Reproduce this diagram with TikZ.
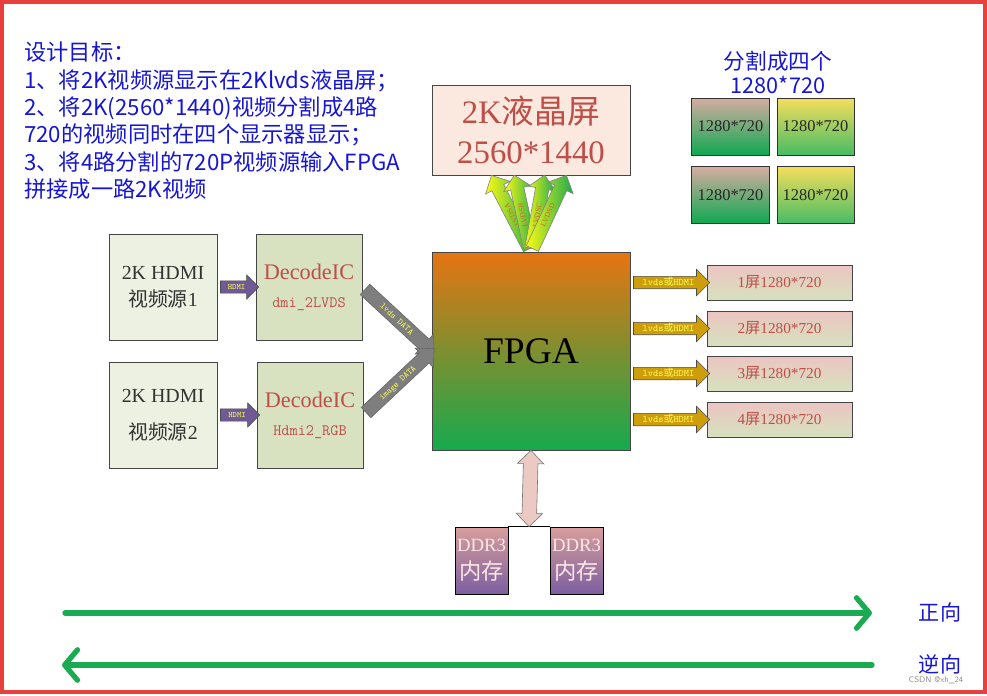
\documentclass[tikz,border=0pt]{standalone}
\usepackage{fontspec}
\setmainfont{Liberation Serif}
\newfontfamily\cjk{Noto Sans CJK SC}
\usetikzlibrary{positioning,calc,shapes.arrows,arrows.meta}

\definecolor{framered}{RGB}{232,64,60}
\definecolor{goalblue}{RGB}{22,22,210}
\definecolor{boxline}{RGB}{70,70,70}
\definecolor{srcfill}{RGB}{236,241,226}
\definecolor{decfill}{RGB}{216,226,193}
\definecolor{lcdfill}{RGB}{251,233,223}
\definecolor{redtext}{RGB}{190,78,72}
\definecolor{fpgatop}{RGB}{230,116,18}
\definecolor{fpgabot}{RGB}{22,170,78}
\definecolor{pinktop}{RGB}{214,172,162}
\definecolor{greenbot}{RGB}{14,168,80}
\definecolor{yellowtop}{RGB}{245,222,92}
\definecolor{lightgreen}{RGB}{70,188,100}
\definecolor{outtop}{RGB}{236,196,194}
\definecolor{outbot}{RGB}{214,226,190}
\definecolor{ddrtop}{RGB}{216,158,156}
\definecolor{ddrbot}{RGB}{124,94,160}
\definecolor{ddrtext}{RGB}{252,232,230}
\definecolor{hdmipurple}{RGB}{112,90,150}
\definecolor{linkgray}{RGB}{126,126,126}
\definecolor{outgold}{RGB}{206,158,10}
\definecolor{labelyellow}{RGB}{250,250,90}
\definecolor{upyellow}{RGB}{250,250,20}
\definecolor{upgreen}{RGB}{30,170,80}
\definecolor{uptext}{RGB}{200,110,30}
\definecolor{memarrow}{RGB}{236,202,196}
\definecolor{dirgreen}{RGB}{26,170,82}

\newcommand{\fatarrow}[4]{%
  \path let \p1=($(#3)-(#2)$), \n1={atan2(\y1,\x1)}, \n2={veclen(\x1,\y1)} in
    node[#1, rotate=\n1, minimum height=\n2] at ($(#2)!0.5!(#3)$) {#4};}

\begin{document}
\begin{tikzpicture}[x=0.03cm,y=-0.03cm,
  box/.style={draw=boxline, line width=0.7pt, align=center, inner sep=0pt},
  src/.style={box, fill=srcfill, minimum width=3.24cm, minimum height=3.18cm, text=black!80, font=\fontsize{17}{23}\selectfont},
  dec/.style={box, fill=decfill, minimum width=3.18cm, minimum height=3.18cm, text=redtext, font=\fontsize{19}{24}\selectfont},
  quad/.style={draw=black!80, line width=0.7pt, minimum width=2.34cm, minimum height=1.71cm, inner sep=0pt, text=black!85, font=\fontsize{14}{14}\selectfont},
  outbox/.style={box, top color=outtop, bottom color=outbot, minimum width=4.35cm, minimum height=1.05cm, text=redtext, font=\fontsize{13}{13}\selectfont},
  ddr/.style={draw=black, line width=0.7pt, top color=ddrtop, bottom color=ddrbot, minimum width=1.59cm, minimum height=2.01cm, align=center, inner sep=0pt, text=ddrtext, font=\fontsize{16}{24}\selectfont},
  arr/.style={single arrow, line width=0.5pt, inner xsep=1pt, text depth=0pt},
  hdmiarr/.style={arr, draw=black!70, fill=hdmipurple, text=labelyellow, text height=4pt, inner ysep=3pt, single arrow head extend=5pt, font=\ttfamily\fontsize{7}{7}\selectfont},
  linkarr/.style={arr, draw=black!60, fill=linkgray, text=labelyellow, text height=4.5pt, inner ysep=3.5pt, single arrow head extend=5.5pt, font=\ttfamily\fontsize{7.5}{7.5}\selectfont},
  outarr/.style={arr, draw=black!70, fill=outgold, text=labelyellow, text height=4.5pt, inner ysep=2.8pt, single arrow head extend=6pt, font=\ttfamily\fontsize{8.5}{8.5}\selectfont},
  uparr/.style={arr, draw=black!50, left color=upyellow, right color=upgreen, text=uptext, text height=4pt, inner ysep=3.5pt, single arrow head extend=6pt, font=\fontsize{6.5}{6.5}\selectfont},
  memarr/.style={double arrow, draw=black!55, line width=0.5pt, fill=memarrow, text height=0pt, text depth=0pt, inner xsep=0pt, inner ysep=6pt, double arrow head extend=5pt},
  dirline/.style={draw=dirgreen, line width=4.5pt, line cap=round, -{Straight Barb[length=11pt, width=26pt, round]}},
  dirlabel/.style={text=goalblue, font=\cjk\fontsize{18}{18}\selectfont}]
\useasboundingbox (0,0) rectangle (987,695);
\draw[framered, line width=2.6pt] (2,2) rectangle (985,692);

\node[anchor=north west, align=left, inner sep=0pt, text=goalblue, font=\cjk\fontsize{19}{23.3}\selectfont] (goal) at (24,42)
  {设计目标：\\1、将2K视频源显示在2Klvds液晶屏；\\2、将2K(2560*1440)视频分割成4路\\720的视频同时在四个显示器显示；\\3、将4路分割的720P视频源输入FPGA\\拼接成一路2K视频};

\node[box, fill=lcdfill, minimum width=5.94cm, minimum height=2.7cm, text=redtext, font=\fontsize{28}{34}\selectfont] (lcd) at (531,130) {2K{\cjk 液晶屏}\\2560*1440};
\node[box, top color=fpgatop, bottom color=fpgabot, minimum width=5.94cm, minimum height=5.94cm, font=\fontsize{32}{32}\selectfont] (fpga) at (531,351) {FPGA};

\node[text=goalblue, align=center, font=\cjk\fontsize{18.5}{20.5}\selectfont] (split) at (778,72) {分割成四个\\1280*720};
\node[quad, top color=pinktop, bottom color=greenbot] (q1) at (730.5,126.5) {1280*720};
\node[quad, top color=yellowtop, bottom color=lightgreen, minimum width=2.31cm] (q2) at (815.5,126.5) {1280*720};
\node[quad, top color=pinktop, bottom color=greenbot] (q3) at (730.5,195) {1280*720};
\node[quad, top color=yellowtop, bottom color=lightgreen, minimum width=2.31cm] (q4) at (815.5,195) {1280*720};

\node[src] (src1) at (163,287) {2K HDMI\\{\cjk 视频源}1};
\node[src] (src2) at (163,415) {2K HDMI\\[9pt]{\cjk 视频源}2};
\node[dec] (dec1) at (309,287) {DecodeIC\\{\ttfamily\fontsize{13.5}{13.5}\selectfont dmi\_2LVDS}};
\node[dec] (dec2) at (310,415) {DecodeIC\\{\ttfamily\fontsize{13.5}{13.5}\selectfont Hdmi2\_RGB}};

\node[outbox] (out1) at (779.5,282.5) {1{\cjk 屏}1280*720};
\node[outbox] (out2) at (779.5,328.5) {2{\cjk 屏}1280*720};
\node[outbox] (out3) at (779.5,373.5) {3{\cjk 屏}1280*720};
\node[outbox] (out4) at (779.5,419.5) {4{\cjk 屏}1280*720};

\node[ddr] (ddr1) at (481.5,560.5) {DDR3\\{\cjk\fontsize{19}{19}\selectfont 内存}};
\node[ddr] (ddr2) at (576.5,560.5) {DDR3\\{\cjk\fontsize{19}{19}\selectfont 内存}};
\draw[line width=0.7pt] (ddr1.north east) -- (ddr2.north west);
\coordinate (memtop) at ($(ddr1.north east)!0.5!(ddr2.north west)$);

\fatarrow{hdmiarr}{src1.east}{dec1.west}{HDMI}
\fatarrow{hdmiarr}{src2.east}{dec2.west}{HDMI}
\fatarrow{linkarr}{dec1.east}{fpga.west}{lvds DATA}
\fatarrow{linkarr}{dec2.east}{fpga.west}{image DATA}

\coordinate (t1) at ($(lcd.south)+(-38,3)$);
\coordinate (t2) at ($(lcd.south)+(-16,3)$);
\coordinate (t3) at ($(lcd.south)+(13,3)$);
\coordinate (t4) at ($(lcd.south)+(34,3)$);
\fatarrow{uparr}{fpga.north}{t1}{LVDSA}
\fatarrow{uparr}{fpga.north}{t2}{LVDSB}
\fatarrow{uparr}{fpga.north}{t3}{LVDSC}
\fatarrow{uparr}{fpga.north}{t4}{LVDSD}

\coordinate (o1) at (fpga.east |- out1.west);
\coordinate (o2) at (fpga.east |- out2.west);
\coordinate (o3) at (fpga.east |- out3.west);
\coordinate (o4) at (fpga.east |- out4.west);
\fatarrow{outarr}{o1}{out1.west}{lvds{\cjk 或}HDMI}
\fatarrow{outarr}{o2}{out2.west}{lvds{\cjk 或}HDMI}
\fatarrow{outarr}{o3}{out3.west}{lvds{\cjk 或}HDMI}
\fatarrow{outarr}{o4}{out4.west}{lvds{\cjk 或}HDMI}

\fatarrow{memarr}{fpga.south}{memtop}{}

\coordinate (f0) at (65,613);
\coordinate (f1) at (872,613);
\coordinate (r0) at (872,665);
\coordinate (r1) at (62,665);
\draw[dirline] (f0) -- (f1);
\draw[dirline] (r0) -- (r1);
\node[dirlabel] (fwd) at (940,612) {正向};
\node[dirlabel] (rev) at (940,664) {逆向};
\node[text=black!45, font=\sffamily\fontsize{7}{7}\selectfont] (mark) at (936,680) {CSDN @xh\_24};
\end{tikzpicture}
\end{document}
